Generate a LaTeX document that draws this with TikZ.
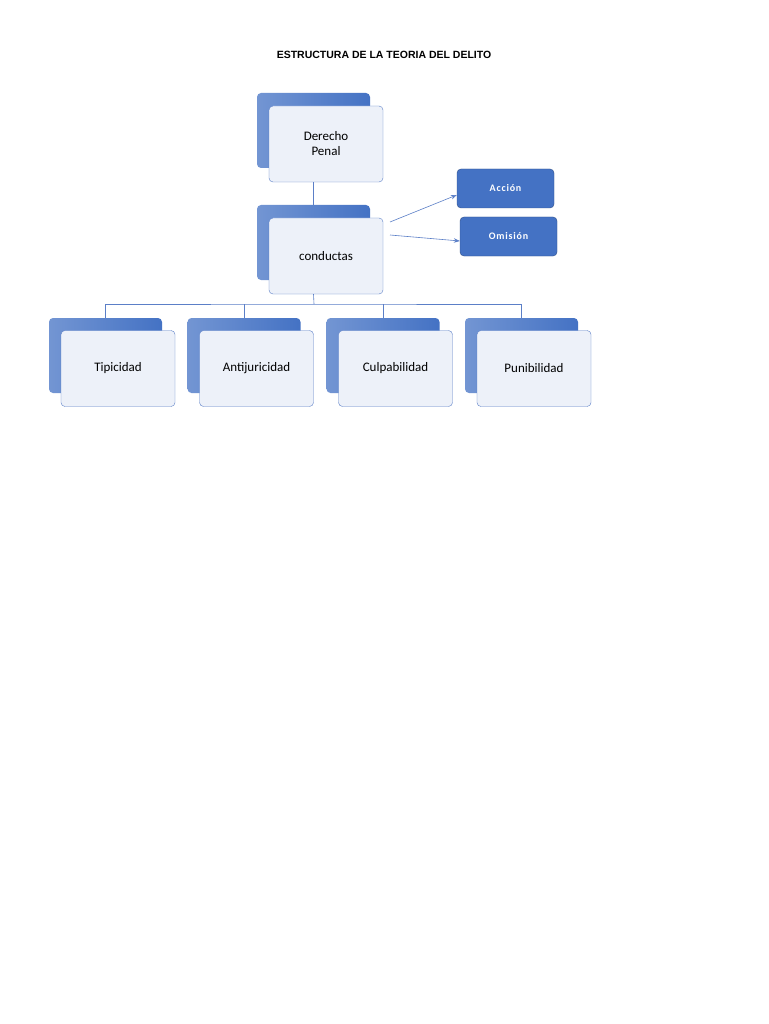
\documentclass[tikz,border=0pt]{standalone}
\usepackage{fontspec}
\setmainfont{Carlito}
\newfontfamily\titlefont{Liberation Sans}
\newfontfamily\smallfont[LetterSpace=8]{Carlito}
\usetikzlibrary{arrows.meta,positioning}
\definecolor{boxblue}{HTML}{4472C4}
\definecolor{paleblue}{HTML}{EDF1F9}
\definecolor{lineblue}{HTML}{5B7FC7}
\tikzset{
  backbox/.style={rounded corners=4pt,minimum width=113pt,minimum height=75pt,
     left color=boxblue!75!white,right color=boxblue,draw=none},
  frontbox/.style={rounded corners=4pt,minimum width=114pt,minimum height=76pt,
     draw=lineblue,fill=paleblue,font=\fontsize{13}{15}\selectfont,align=center,
     append after command={}},
  smallbox/.style={rounded corners=4pt,minimum width=97pt,minimum height=39pt,
     draw=boxblue!70!black,fill=boxblue,text=white,font=\smallfont\bfseries\fontsize{10}{12}\selectfont},
  link/.style={lineblue,line width=0.6pt}
}
\begin{document}
\begin{tikzpicture}[x=1pt,y=-1pt]
\useasboundingbox[fill=white] (0,0) rectangle (768,1024);
\node[font=\titlefont\bfseries\fontsize{10.5}{12}\selectfont] (title) at (384,55) {ESTRUCTURA DE LA TEORIA DEL DELITO};

% upper column
\node[backbox] (DPb) at (313.5,130.5) {};
\node[frontbox] (DP) at (326,144) {Derecho\\Penal};
\node[backbox] (COb) at (313.5,242.5) {};
\node[frontbox] (CO) at (326,256) {conductas};

% bottom row
\foreach \n/\x/\t in {TI/105.5/Tipicidad, AN/244/Antijuricidad, CU/383/Culpabilidad, PU/521.5/Punibilidad}{
  \node[backbox] (\n b) at (\x,355.5) {};
  \node[frontbox] (\n) at (\x+12.5,368.5) {\t};
}

% side boxes
\node[smallbox] (AC) at (505.5,188.5) {Acción};
\node[smallbox] (OM) at (508.5,236.5) {Omisión};

% connectors
\draw[link] (DP.south -| DPb) -- (COb.north);
\coordinate (bus) at (314,304);
\draw[link] (CO.south -| COb) -- (bus);
\draw[link] (TIb.north) |- (bus) -| (PUb.north);
\draw[link] (ANb.north) -- (ANb.north |- bus);
\draw[link] (CUb.north) -- (CUb.north |- bus);
\coordinate (a1) at (390,222);
\coordinate (a2) at (390,235);
\draw[link,-{Stealth[length=6pt]}] (a1) -- (AC.west |- 0,195) ;
\draw[link,-{Stealth[length=6pt]}] (a2) -- (OM.west |- 0,241);
\end{tikzpicture}
\end{document}
